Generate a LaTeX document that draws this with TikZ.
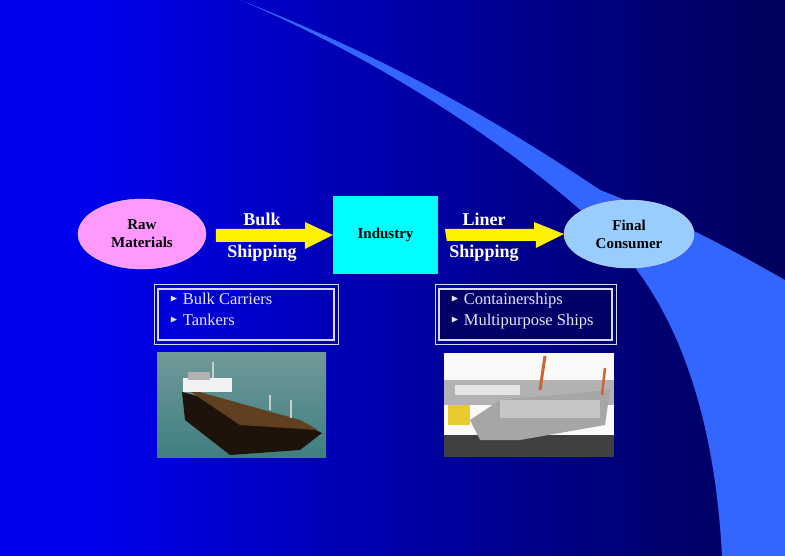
\documentclass[tikz,border=0pt]{standalone}
\usepackage{fontspec}
\setmainfont{Liberation Serif}
\usepackage{amssymb}
\usetikzlibrary{shapes.geometric}
\definecolor{bgA}{HTML}{0000F0}
\definecolor{bgB}{HTML}{000080}
\definecolor{band}{HTML}{3366FF}
\definecolor{rawc}{HTML}{FF99FF}
\definecolor{finc}{HTML}{99CCFF}
\definecolor{indc}{HTML}{00FFFF}
\pgfdeclarehorizontalshading{bgshade}{100bp}{color(0bp)=(bgA); color(30bp)=(bgA); color(62bp)=(bgB); color(82bp)=(bgB!55!black); color(100bp)=(black)}
\tikzset{
  blob/.style={ellipse, draw=white!70!gray, font=\bfseries\fontsize{15}{18}\selectfont, align=center, minimum width=128pt, minimum height=70pt, inner sep=0pt},
  yarrow/.style={fill=yellow, draw=none},
  lbl/.style={text=white, font=\bfseries\fontsize{18}{20}\selectfont},
  listtxt/.style={text=white!90!blue, anchor=north west, align=left, font=\fontsize{16.5}{21}\selectfont, inner sep=0pt},
}
\newcommand{\tri}{\raisebox{3pt}{\scalebox{0.6}{$\blacktriangleright$}}\hspace{5pt}}
\begin{document}
\begin{tikzpicture}[x=1pt,y=-1pt]
\useasboundingbox (0,0) rectangle (785,556);
\shade[shading=bgshade] (0,0) rectangle (785,556);
\fill[band] (240,0) .. controls (420,70) and (540,150) .. (600,190)
  .. controls (690,225) and (740,255) .. (785,280) -- (785,556) -- (722,556)
  .. controls (715,420) and (680,320) .. (625,255)
  .. controls (590,210) and (440,85) .. (240,0) -- cycle;
% nodes
\node[blob, fill=rawc] (raw) at (142,234) {Raw\\Materials};
\node[fill=indc, minimum width=105pt, minimum height=78pt, font=\bfseries\fontsize{15}{18}\selectfont] (ind) at (385.5,235) {Industry};
\node[blob, fill=finc, minimum width=130pt, minimum height=68pt] (fin) at (629,234) {Final\\Consumer};
\coordinate (a1s) at (216,236);
\coordinate (a2s) at (445,236);
\fill[yarrow] (a1s) ++(0,-7) -- ++(89,0) -- ++(0,-7) -- (ind.west) -- ++(-28,14) -- ++(0,-7) -- ++(-89,0) -- cycle;
\fill[yarrow] (a2s) ++(0,-7) -- ++(89,0) -- ++(0,-7) -- (fin.west) -- ++(-28,14) -- ++(0,-7) -- ++(-89,0) -- cycle;
\node[lbl] (l1) at (262,219) {Bulk};
\node[lbl] (l2) at (262,253) {Shipping};
\node[lbl] (l3) at (484,219) {Liner};
\node[lbl] (l4) at (484,253) {Shipping};
% list boxes
\draw[white!85!blue, line width=1pt] (154,285) rectangle (338,344);
\draw[white!85!blue, line width=1.5pt] (158,289) rectangle (334,340);
\node[listtxt] (b1) at (170,293) {\tri Bulk Carriers\\\tri Tankers};
\draw[white!85!blue, line width=1pt] (435,285) rectangle (616,344);
\fill[bgB!80!black] (439,289) rectangle (612,340);
\draw[white!85!blue, line width=1.5pt] (439,289) rectangle (612,340);
\node[listtxt] (b2) at (451,293) {\tri Containerships\\\tri Multipurpose Ships};
% photo 1: tanker
\begin{scope}
\clip (157,352) rectangle (326,457);
\fill[top color=teal!40!gray!80, bottom color=teal!50!gray] (157,352) rectangle (326,457);
\fill[black!85!brown] (182,392) -- (305,425) -- (322,433) -- (300,450) -- (230,455) -- (185,420) -- cycle;
\fill[brown!50!black] (185,388) -- (300,420) -- (318,430) -- (240,425) -- cycle;
\fill[white!90!gray] (183,378) rectangle (232,392);
\fill[gray!60] (188,372) rectangle (210,380);
\draw[gray!40, line width=2pt] (213,362) -- (213,378);
\draw[gray!40, line width=2pt] (270,395) -- (270,410);
\draw[gray!40, line width=2pt] (291,400) -- (291,418);
\end{scope}
% photo 2: container ship
\begin{scope}
\clip (444,353) rectangle (614,457);
\fill[white!95!gray] (444,353) rectangle (614,457);
\fill[gray!60] (444,380) rectangle (614,405);
\fill[white!80!gray] (455,385) rectangle (520,395);
\fill[gray!50!black] (444,435) rectangle (614,457);
\fill[gray!70] (470,420) -- (500,400) -- (610,390) -- (605,425) -- (520,440) -- (480,440) -- cycle;
\fill[gray!45] (500,400) rectangle (600,418);
\draw[brown!80!red, line width=3pt] (545,356) -- (540,390);
\draw[brown!80!red, line width=2.5pt] (605,368) -- (602,395);
\fill[yellow!60!brown] (448,405) rectangle (470,425);
\end{scope}
\end{tikzpicture}
\end{document}
